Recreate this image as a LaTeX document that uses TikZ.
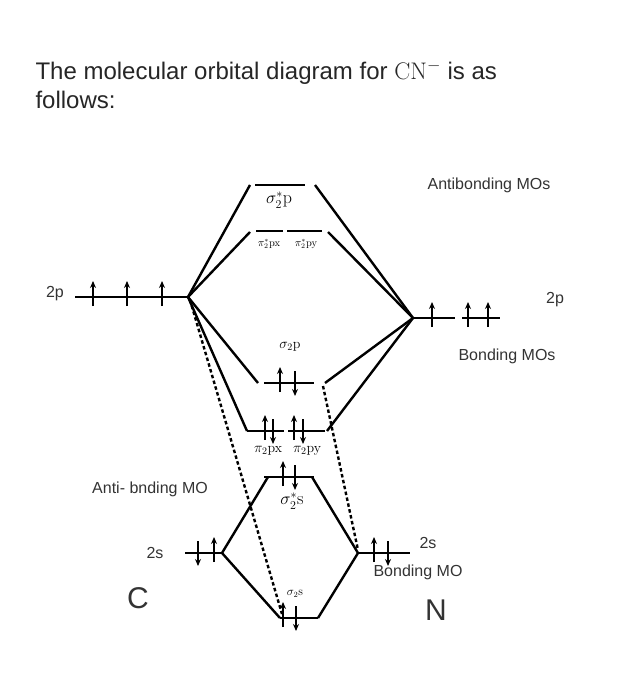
\documentclass[tikz,border=0pt]{standalone}
\usepackage{fontspec}
\setmainfont{Liberation Sans}
\newfontfamily\lmr{Latin Modern Roman}
\usetikzlibrary{arrows.meta}
\newcommand\eup[2]{\draw[el] (#1,#2+9) -- (#1,#2-16);}
\newcommand\edn[2]{\draw[el] (#1,#2-12) -- (#1,#2+13);}
\begin{document}
\begin{tikzpicture}[x=1pt,y=-1pt,
  lvl/.style={line width=2.6pt},
  cn/.style={line width=2.4pt},
  dsh/.style={line width=2.4pt,dash pattern=on 3.5pt off 2.5pt},
  el/.style={line width=1.8pt,-{Stealth[length=7pt,width=6pt]}},
  lab/.style={font=\fontsize{16}{19}\selectfont,text=black!80},
  mo/.style={font=\fontsize{12}{14}\selectfont\lmr}]
\useasboundingbox (0,0) rectangle (619,700);
\node[anchor=west,font=\fontsize{24}{28}\selectfont,text=black!85] (t1) at (32,72) {The molecular orbital diagram for {\lmr CN}$^{-}$ is as};
\node[anchor=west,font=\fontsize{24}{28}\selectfont,text=black!85] (t2) at (32,100) {follows:};
% atomic levels
\coordinate (C2p) at (188,297); \coordinate (N2p) at (413,318);
\coordinate (C2s) at (222,553); \coordinate (N2s) at (358,553);
\draw[lvl] (75,297) -- (C2p);
\draw[lvl] (N2p) -- (455,318) (462,318) -- (500,318);
\draw[lvl] (185,553) -- (C2s);
\draw[lvl] (N2s) -- (410,553);
\eup{93}{297}\eup{127}{297}\eup{162}{297}
\eup{432}{318}\eup{468}{318}\eup{488}{318}
\edn{198}{553}\eup{214}{553}
\eup{374}{553}\edn{388}{553}
% MO levels
\draw[lvl] (255,185) -- (305,185);
\draw[lvl] (256,231) -- (283,231) (287,231) -- (322,231);
\draw[lvl] (264,383) -- (314,383);
\draw[lvl] (247,431) -- (284,431) (288,431) -- (325,431);
\draw[lvl] (264,477) -- (314,477);
\draw[lvl] (280,618) -- (318,618);
\eup{280}{383}\edn{295}{383}
\eup{265}{431}\edn{273}{431}\eup{294}{431}\edn{303}{431}
\eup{283}{477}\edn{295}{477}
\eup{283}{618}\edn{296}{618}
% connectors
\draw[cn] (C2p) -- (250,185) (N2p) -- (315,185);
\draw[cn] (C2p) -- (250,232) (N2p) -- (328,232);
\draw[cn] (C2p) -- (258,383) (N2p) -- (325,383);
\draw[cn] (C2p) -- (247,431) (N2p) -- (327,431);
\draw[cn] (C2s) -- (268,477) (N2s) -- (312,477);
\draw[cn] (C2s) -- (280,618) (N2s) -- (318,618);
\draw[dsh] (190,300) -- (282,614);
\draw[dsh] (323,386) -- (358,550);
% MO labels
\node[mo,font=\fontsize{18}{20}\selectfont\lmr] (a1) at (279,200) {$\sigma^{*}_{2}$p};
\node[mo,font=\fontsize{10.5}{12}\selectfont\lmr] (a2) at (269,244) {$\pi^{*}_{2}$px};
\node[mo,font=\fontsize{10.5}{12}\selectfont\lmr] (a3) at (306,244) {$\pi^{*}_{2}$py};
\node[mo,font=\fontsize{14}{16}\selectfont\lmr] (a4) at (290,347) {$\sigma_{2}$p};
\node[mo,font=\fontsize{14}{16}\selectfont\lmr] (a5) at (268,451) {$\pi_{2}$px};
\node[mo,font=\fontsize{14}{16}\selectfont\lmr] (a6) at (307,451) {$\pi_{2}$py};
\node[mo,font=\fontsize{18}{20}\selectfont\lmr] (a7) at (292,501) {$\sigma^{*}_{2}$s};
\node[mo] (a8) at (295,594) {$\sigma_{2}$s};
% side labels
\node[lab] (b1) at (55,294) {2p};
\node[lab] (b2) at (555,300) {2p};
\node[lab] (b3) at (489,185) {Antibonding MOs};
\node[lab] (b4) at (507,356) {Bonding MOs};
\node[lab] (b5) at (150,489) {Anti- bnding MO};
\node[lab] (b6) at (155,553) {2s};
\node[lab] (b7) at (428,543) {2s};
\node[lab] (b8) at (418,572) {Bonding MO};
\node[font=\fontsize{30}{34}\selectfont,text=black!80] (b9) at (138,598) {C};
\node[font=\fontsize{30}{34}\selectfont,text=black!80] (b10) at (436,610) {N};
\end{tikzpicture}
\end{document}
